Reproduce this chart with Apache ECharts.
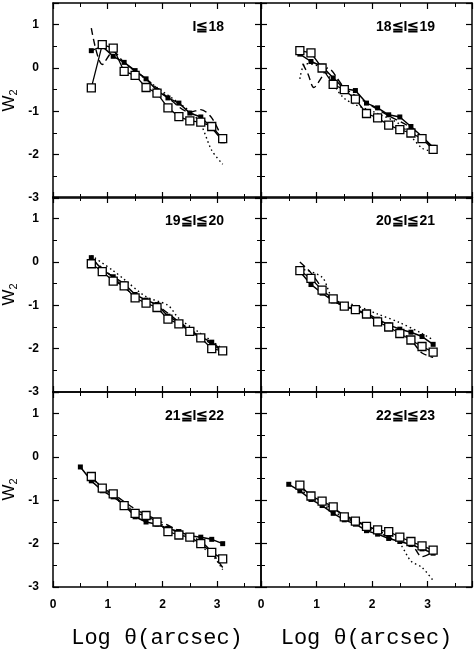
<!DOCTYPE html>
<html>
<head>
<meta charset="utf-8">
<script src="https://cdn.jsdelivr.net/npm/echarts@6/dist/echarts.min.js"></script>
<style>
  html, body { margin: 0; padding: 0; background: #fff; }
  #chart { width: 474px; height: 651px; }
</style>
</head>
<body>
<div id="chart"></div>
<script>
// panel titles
const panelLabels = ['I≦18', '18≦I≦19', '19≦I≦20', '20≦I≦21', '21≦I≦22', '22≦I≦23'];
const yTicks = [-3, -2, -1, 0, 1];
const xTicks = [0, 1, 2, 3];

// filled squares (solid line), per panel: [logTheta, w2]
const filled = [
  [[0.7,0.40],[0.9,0.50],[1.1,0.27],[1.3,0.13],[1.5,-0.06],[1.7,-0.25],[1.9,-0.52],[2.1,-0.69],[2.3,-0.81],[2.5,-1.04],[2.7,-1.13],[2.9,-1.38],[3.1,-1.68]],
  [[0.7,0.32],[0.9,0.15],[1.1,0.04],[1.3,-0.23],[1.5,-0.48],[1.7,-0.52],[1.9,-0.81],[2.1,-0.92],[2.3,-1.08],[2.5,-1.13],[2.7,-1.35],[2.9,-1.58],[3.1,-1.83]],
  [[0.7,0.10],[0.9,-0.18],[1.1,-0.34],[1.3,-0.50],[1.5,-0.75],[1.7,-0.88],[1.9,-0.98],[2.1,-1.25],[2.3,-1.40],[2.5,-1.58],[2.7,-1.73],[2.9,-1.85],[3.1,-2.05]],
  [[0.7,-0.22],[0.9,-0.52],[1.1,-0.72],[1.3,-0.90],[1.5,-1.02],[1.7,-1.10],[1.9,-1.18],[2.1,-1.32],[2.3,-1.45],[2.5,-1.55],[2.7,-1.62],[2.9,-1.72],[3.1,-1.90]],
  [[0.5,-0.23],[0.7,-0.55],[0.9,-0.78],[1.1,-0.92],[1.3,-1.10],[1.5,-1.38],[1.7,-1.50],[1.9,-1.55],[2.1,-1.65],[2.3,-1.72],[2.5,-1.82],[2.7,-1.85],[2.9,-1.90],[3.1,-2.00]],
  [[0.5,-0.63],[0.7,-0.78],[0.9,-0.98],[1.1,-1.12],[1.3,-1.30],[1.5,-1.45],[1.7,-1.55],[1.9,-1.70],[2.1,-1.78],[2.3,-1.88],[2.5,-1.95],[2.7,-2.02],[2.9,-2.12],[3.1,-2.22]]
];

// open squares (solid line)
const open = [
  [[0.7,-0.46],[0.9,0.54],[1.1,0.46],[1.3,-0.08],[1.5,-0.17],[1.7,-0.45],[1.9,-0.58],[2.1,-0.92],[2.3,-1.12],[2.5,-1.22],[2.7,-1.25],[2.9,-1.35],[3.1,-1.63]],
  [[0.7,0.40],[0.9,0.35],[1.1,0.00],[1.3,-0.38],[1.5,-0.50],[1.7,-0.72],[1.9,-1.05],[2.1,-1.15],[2.3,-1.32],[2.5,-1.42],[2.7,-1.50],[2.9,-1.63],[3.1,-1.88]],
  [[0.7,-0.04],[0.9,-0.22],[1.1,-0.44],[1.3,-0.55],[1.5,-0.83],[1.7,-0.95],[1.9,-1.05],[2.1,-1.32],[2.3,-1.43],[2.5,-1.60],[2.7,-1.75],[2.9,-2.00],[3.1,-2.05]],
  [[0.7,-0.20],[0.9,-0.38],[1.1,-0.65],[1.3,-0.85],[1.5,-1.02],[1.7,-1.10],[1.9,-1.20],[2.1,-1.38],[2.3,-1.50],[2.5,-1.65],[2.7,-1.80],[2.9,-1.95],[3.1,-2.08]],
  [[0.7,-0.45],[0.9,-0.72],[1.1,-0.85],[1.3,-1.12],[1.5,-1.30],[1.7,-1.35],[1.9,-1.50],[2.1,-1.72],[2.3,-1.80],[2.5,-1.85],[2.7,-2.00],[2.9,-2.20],[3.1,-2.35]],
  [[0.7,-0.65],[0.9,-0.90],[1.1,-1.02],[1.3,-1.15],[1.5,-1.38],[1.7,-1.48],[1.9,-1.60],[2.1,-1.68],[2.3,-1.72],[2.5,-1.85],[2.7,-1.95],[2.9,-2.05],[3.1,-2.15]]
];

// dashed curves
const dashed = [
  [[0.7,0.92],[0.9,0.08],[1.1,0.38],[1.3,0.12],[1.7,-0.25],[2.1,-0.68],[2.5,-1.02],[2.7,-0.96],[2.9,-1.15],[3.1,-1.65]],
  [[0.75,0.10],[0.85,-0.15],[0.95,-0.45],[1.1,-0.20],[1.2,0.00],[1.5,-0.45],[1.9,-0.80],[2.3,-1.10],[2.7,-1.38],[3.1,-1.85]],
  [[0.7,0.08],[1.1,-0.36],[1.5,-0.78],[1.9,-1.00],[2.3,-1.38],[2.7,-1.72],[2.9,-1.90],[3.1,-2.05]],
  [[0.7,0.00],[0.9,-0.25],[1.1,-0.60],[1.3,-0.90],[1.7,-1.10],[2.1,-1.35],[2.5,-1.60],[2.7,-1.80],[2.9,-2.10],[3.1,-2.20]],
  [[0.7,-0.50],[1.1,-0.85],[1.5,-1.20],[1.9,-1.45],[2.3,-1.70],[2.7,-1.95],[2.9,-2.20],[3.1,-2.55]],
  [[0.7,-0.70],[1.3,-1.20],[2.1,-1.70],[2.7,-2.00],[2.9,-2.30],[3.1,-2.20]]
];

// dotted curves
const dotted = [
  [[1.3,0.12],[1.9,-0.45],[2.5,-1.00],[2.7,-1.30],[2.9,-1.90],[3.1,-2.22]],
  [[0.7,-0.25],[0.8,0.10],[1.1,0.00],[1.5,-0.70],[2.1,-1.05],[2.5,-1.30],[2.9,-1.85],[3.1,-1.92]],
  [[0.7,0.15],[1.1,-0.20],[1.3,-0.40],[1.7,-0.80],[2.1,-1.00],[2.3,-1.30],[2.7,-1.65],[3.1,-2.00]],
  [[0.7,-0.15],[1.1,-0.35],[1.3,-0.85],[1.7,-1.00],[2.1,-1.20],[2.5,-1.40],[2.9,-1.65],[3.1,-1.80]],
  [[0.7,-0.45],[0.9,-0.70],[1.3,-1.10],[1.9,-1.50],[2.5,-1.90],[2.9,-2.25],[3.1,-2.60]],
  [[0.7,-0.75],[1.5,-1.40],[2.3,-1.85],[2.5,-2.00],[2.7,-2.40],[2.9,-2.55],[3.1,-2.85]]
];

let chart = echarts.init(document.getElementById('chart'));

const lefts = [50, 261];
const tops = [3, 197, 392];
const pw = 211, ph = 195;
const axisFont = { color: '#000', fontWeight: 'bold', fontSize: 12, fontFamily: 'Liberation Sans' };

let grid = [], xAxis = [], yAxis = [], series = [], graphic = [];

for (let i = 0; i < 6; i++) {
  let col = i % 2, row = Math.floor(i / 2);
  grid.push({ left: lefts[col], top: tops[row], width: pw, height: ph, show: false });
  let bottomRow = row === 2;
  let baseX = {
    type: 'value', gridIndex: i, min: 0, max: 3.8, interval: 1,
    axisLine: { onZero: false, lineStyle: { color: '#000', width: 1.5 } },
    axisTick: { inside: true, length: 6, lineStyle: { color: '#000', width: 1.2 } },
    minorTick: { show: true, splitNumber: 2, length: 4, lineStyle: { color: '#000' } },
    splitLine: { show: false }
  };
  xAxis.push(Object.assign({}, baseX, {
    position: 'bottom',
    axisLabel: Object.assign({ show: bottomRow, showMaxLabel: false, margin: 12 }, axisFont),
    name: bottomRow ? 'Log θ(arcsec)' : '',
    nameLocation: 'middle', nameGap: 40,
    nameTextStyle: { fontFamily: 'Liberation Mono', fontSize: 22, color: '#000' }
  }));
  xAxis.push(Object.assign({}, baseX, { position: 'top', axisLabel: { show: false } }));
  let baseY = {
    type: 'value', gridIndex: i, min: -3, max: 1.5, interval: 1,
    axisLine: { onZero: false, lineStyle: { color: '#000', width: 1.5 } },
    axisTick: { inside: true, length: 6, lineStyle: { color: '#000', width: 1.2 } },
    minorTick: { show: true, splitNumber: 2, length: 4, lineStyle: { color: '#000' } },
    splitLine: { show: false }
  };
  yAxis.push(Object.assign({}, baseY, {
    position: 'left',
    axisLabel: Object.assign({ show: col === 0, showMaxLabel: false, margin: 14 }, axisFont),
    name: col === 0 ? '{w|W}{s|2}' : '',
    nameLocation: 'middle', nameGap: 34, nameRotate: 90,
    nameTextStyle: {
      rich: {
        w: { fontSize: 17, fontFamily: 'Liberation Sans', color: '#000' },
        s: { fontSize: 11, fontFamily: 'Liberation Sans', color: '#000', verticalAlign: 'bottom', padding: [8, 0, 0, 0] }
      }
    }
  }));
  yAxis.push(Object.assign({}, baseY, { position: 'right', axisLabel: { show: false } }));

  let xi = i * 2, yi = i * 2;
  series.push({
    type: 'line', xAxisIndex: xi, yAxisIndex: yi, data: dotted[i], symbol: 'none', smooth: 0.3,
    lineStyle: { color: '#000', width: 1.4, type: [1.5, 3] }, z: 2
  });
  series.push({
    type: 'line', xAxisIndex: xi, yAxisIndex: yi, data: dashed[i], symbol: 'none', smooth: 0.3,
    lineStyle: { color: '#000', width: 1.4, type: [7, 4] }, z: 2
  });
  series.push({
    type: 'line', xAxisIndex: xi, yAxisIndex: yi, data: filled[i], symbol: 'rect', symbolSize: 5,
    itemStyle: { color: '#000' }, lineStyle: { color: '#000', width: 1.5 }, z: 3
  });
  series.push({
    type: 'line', xAxisIndex: xi, yAxisIndex: yi, data: open[i], symbol: 'rect', symbolSize: 8,
    itemStyle: { color: '#fff', borderColor: '#000', borderWidth: 1.3, opacity: 1 },
    lineStyle: { color: '#000', width: 1.3 }, z: 4
  });

  graphic.push({
    type: 'text', right: 474 - (lefts[col] + pw - 37), top: tops[row] + 17,
    style: { text: panelLabels[i], font: 'bold 14px "Liberation Sans"', fill: '#000' }
  });
}

chart.setOption({
  backgroundColor: '#fff',
  animation: false,
  grid: grid,
  xAxis: xAxis,
  yAxis: yAxis,
  series: series,
  graphic: graphic
});
</script>
</body>
</html>
